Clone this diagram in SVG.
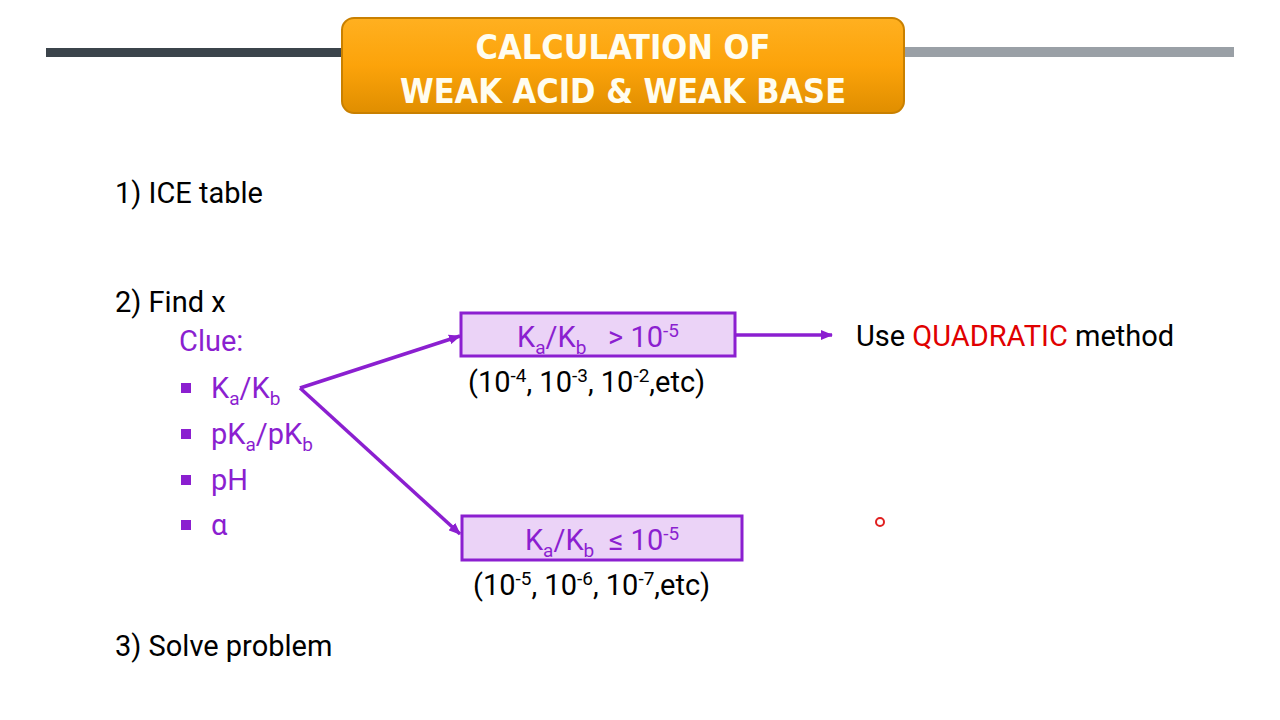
<svg xmlns="http://www.w3.org/2000/svg" width="1280" height="720" viewBox="0 0 1280 720">
<defs>
<marker id="ah" markerWidth="12" markerHeight="10" refX="11" refY="5" orient="auto" markerUnits="userSpaceOnUse"><path d="M0,0 L12,5 L0,10 z" fill="#8B1FD0"/></marker>
<linearGradient id="og" x1="0" y1="0" x2="0" y2="1"><stop offset="0" stop-color="#FFB020"/><stop offset="0.5" stop-color="#FCA30A"/><stop offset="1" stop-color="#E08E00"/></linearGradient>
</defs>
<style>
.t{font-family:Roboto,"Liberation Sans",sans-serif;font-size:29px;fill:#000}
.p{font-family:Roboto,"Liberation Sans",sans-serif;font-size:29px;fill:#8B1FD0}
.b{fill:#EBD3F7;stroke:#8B1FD0;stroke-width:3}
.bt{font-family:Roboto,"Liberation Sans",sans-serif;font-size:29px;fill:#8B1FD0;text-anchor:middle}
.c{stroke:#8B1FD0;stroke-width:3.5;fill:none}
.h{font-family:"DejaVu Sans Condensed","DejaVu Sans",sans-serif;font-weight:bold;font-size:34px;fill:#FFFDF0;text-anchor:middle}
</style>
<rect width="1280" height="720" fill="#fff"/>
<g id="header">
<rect x="46" y="48" width="300" height="9" fill="#3B444B"/>
<rect x="900" y="47" width="334" height="10" fill="#9AA0A6"/>
<rect x="342" y="18" width="562" height="95" rx="12" fill="url(#og)" stroke="#C98000" stroke-width="2"/>
<text class="h" x="623" y="59">CALCULATION OF</text>
<text class="h" x="623" y="103">WEAK ACID &amp; WEAK BASE</text>
</g>
<g id="steps">
<text class="t" x="115" y="203">1) ICE table</text>
<text class="t" x="115" y="312">2) Find x</text>
<text class="t" x="115" y="656">3) Solve problem</text>
</g>
<g id="clues">
<text class="p" x="179" y="351">Clue:</text>
<rect x="181" y="383" width="10" height="10" fill="#8B1FD0"/>
<rect x="181" y="429" width="10" height="10" fill="#8B1FD0"/>
<rect x="181" y="475" width="10" height="10" fill="#8B1FD0"/>
<rect x="181" y="520" width="10" height="10" fill="#8B1FD0"/>
<text class="p" x="211" y="398">K<tspan font-size="19" dy="7">a</tspan><tspan dy="-7">/K</tspan><tspan font-size="19" dy="7">b</tspan></text>
<text class="p" x="211" y="444">pK<tspan font-size="19" dy="7">a</tspan><tspan dy="-7">/pK</tspan><tspan font-size="19" dy="7">b</tspan></text>
<text class="p" x="211" y="490">pH</text>
<text class="p" x="211" y="535">α</text>
</g>
<g id="box1">
<rect class="b" x="461" y="313" width="274" height="43"/>
<text class="bt" x="598" y="347" xml:space="preserve">K<tspan font-size="19" dy="7">a</tspan><tspan dy="-7">/K</tspan><tspan font-size="19" dy="7">b</tspan><tspan dy="-7">   &gt; 10</tspan><tspan font-size="19" dy="-10">-5</tspan></text>
<text class="t" x="468" y="392">(10<tspan font-size="19" dy="-10">-4</tspan><tspan dy="10">, 10</tspan><tspan font-size="19" dy="-10">-3</tspan><tspan dy="10">, 10</tspan><tspan font-size="19" dy="-10">-2</tspan><tspan dy="10">,etc)</tspan></text>
</g>
<g id="box2">
<rect class="b" x="462" y="516" width="280" height="44"/>
<text class="bt" x="602" y="550" xml:space="preserve">K<tspan font-size="19" dy="7">a</tspan><tspan dy="-7">/K</tspan><tspan font-size="19" dy="7">b</tspan><tspan dy="-7">  ≤ 10</tspan><tspan font-size="19" dy="-10">-5</tspan></text>
<text class="t" x="473" y="595">(10<tspan font-size="19" dy="-10">-5</tspan><tspan dy="10">, 10</tspan><tspan font-size="19" dy="-10">-6</tspan><tspan dy="10">, 10</tspan><tspan font-size="19" dy="-10">-7</tspan><tspan dy="10">,etc)</tspan></text>
</g>
<g id="result">
<text class="t" x="856" y="346">Use <tspan fill="#E00000">QUADRATIC</tspan> method</text>
</g>
<g id="connectors">
<path class="c" d="M300,388 L460,336" marker-end="url(#ah)"/>
<path class="c" d="M300,388 L460,534" marker-end="url(#ah)"/>
<path class="c" d="M735,335 L832,335" marker-end="url(#ah)"/>
</g>
<circle cx="880" cy="522" r="4" fill="#fff" stroke="#E02020" stroke-width="2"/>
</svg>
